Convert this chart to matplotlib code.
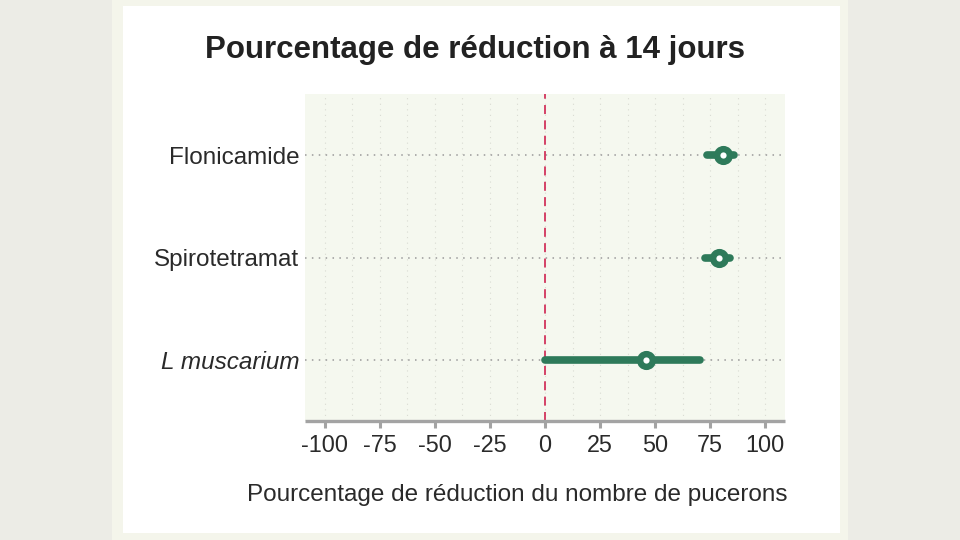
import matplotlib.pyplot as plt
from matplotlib.patches import Rectangle

# data
treatments = ['L muscarium', 'Spirotetramat', 'Flonicamide']
reduction = [46, 79, 81]
ci_low = [0, 72.5, 73.5]
ci_high = [70.5, 84, 86]
x_ticks = [-100, -75, -50, -25, 0, 25, 50, 75, 100]

green = '#2e7a5a'
plt.rcParams['font.family'] = ['Liberation Sans', 'DejaVu Sans']

fig = plt.figure(figsize=(9.6, 5.4), dpi=100)
fig.patch.set_facecolor('#ecece6')

# card behind the chart
fig.add_artist(Rectangle((112 / 960, 0), 736 / 960, 1, transform=fig.transFigure,
                         facecolor='#f4f5eb', edgecolor='none', zorder=-2))
fig.add_artist(Rectangle((123 / 960, 7 / 540), 717 / 960, 527 / 540, transform=fig.transFigure,
                         facecolor='white', edgecolor='none', zorder=-1))

ax = fig.add_axes([305 / 960, 119 / 540, 480 / 960, 327 / 540])
ax.set_facecolor('#f5f8ef')

ypos = list(range(1, len(treatments) + 1))

# light vertical grid every 12.5
for g in [v / 2 for v in range(-200, 201, 25)]:
    ax.axvline(g, color='#d9dbd2', lw=0.8, ls=(0, (1, 4)), zorder=0)
# dotted guide for each treatment
for y in ypos:
    ax.axhline(y, color='#9a9a9a', lw=1.1, ls=(0, (1, 3.5)), zorder=1)

ax.axvline(0, color='#d2335c', lw=1.3, ls=(0, (5, 3.5)), zorder=2)

ax.hlines(ypos, ci_low, ci_high, color=green, lw=5.5, capstyle='round', zorder=3)
ax.scatter(reduction, ypos, s=190, color=green, zorder=4, linewidths=0)
ax.scatter(reduction, ypos, s=20, color='white', zorder=5, linewidths=0)

ax.set_xlim(-109, 109)
ax.set_ylim(0.4, 3.6)
ax.set_xticks(x_ticks)
ax.set_xticklabels([str(v) for v in x_ticks])
ax.set_yticks(ypos)
ax.set_yticklabels(treatments)
ax.get_yticklabels()[0].set_style('italic')

for s in ['top', 'right', 'left']:
    ax.spines[s].set_visible(False)
ax.spines['bottom'].set_color('#a3a3a3')
ax.spines['bottom'].set_linewidth(2.4)
ax.spines['bottom'].set_capstyle('butt')

ax.tick_params(axis='x', colors='#a3a3a3', width=2.2, length=5, pad=4,
               labelsize=16.8, labelcolor='#2a2a2a')
ax.tick_params(axis='y', length=0, pad=4, labelsize=17.5, labelcolor='#2a2a2a')

fig.text(475 / 960, 490 / 540, 'Pourcentage de réduction à 14 jours',
         ha='center', va='center', fontsize=22.5, fontweight='bold', color='#222222')
fig.text(517 / 960, 45 / 540, 'Pourcentage de réduction du nombre de pucerons',
         ha='center', va='center', fontsize=17.5, color='#2a2a2a')

fig.savefig('out.png', dpi=100, facecolor=fig.get_facecolor())
